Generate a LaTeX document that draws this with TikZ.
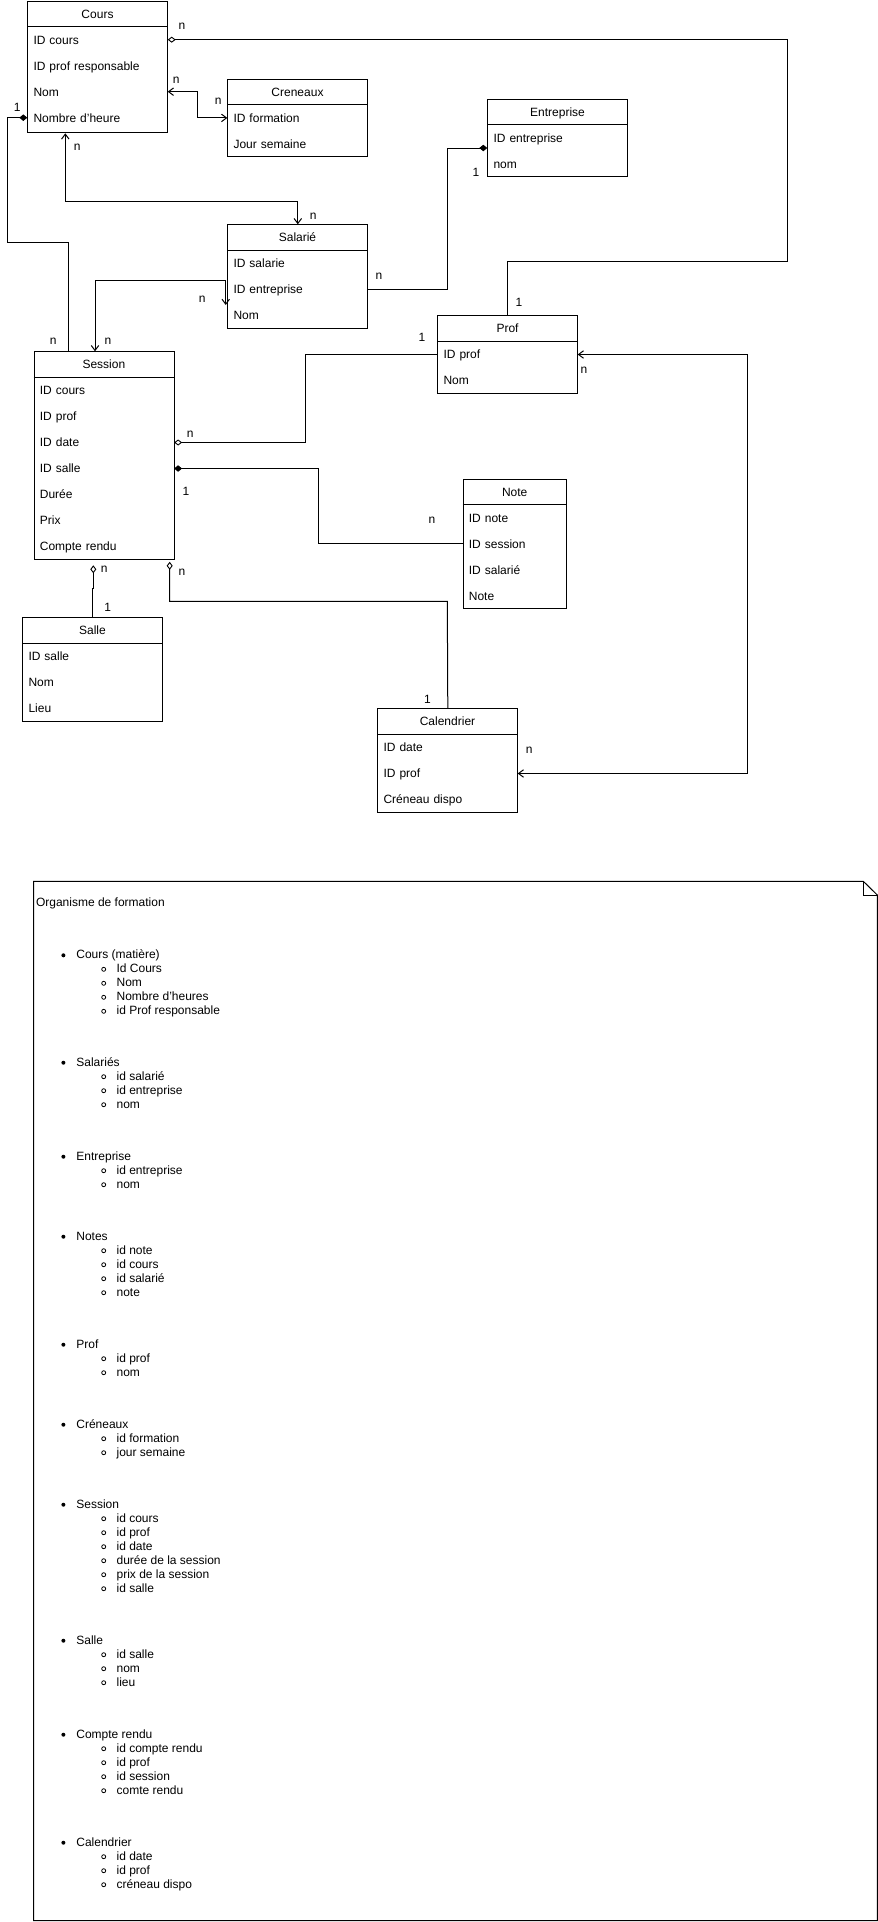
\documentclass[tikz,border=0pt]{standalone}
\usepackage{fontspec}
\setmainfont{Liberation Sans}
\usetikzlibrary{arrows.meta,calc}
\tikzset{
  ent/.style={draw, line width=1pt, anchor=north west, inner sep=0pt, fill=white},
  ttl/.style={anchor=north west, inner sep=0pt, minimum height=26pt, text height=8.6pt, text depth=0pt},
  rowtxt/.style={anchor=north west, inner xsep=6pt, inner ysep=0pt, minimum height=26pt, text height=8.6pt, text depth=0pt, align=left},
  card/.style={inner sep=0pt, anchor=center},
  lst/.style={inner sep=0pt, anchor=west, text height=8.6pt, text depth=0pt},
  conn/.style={line width=1pt},
  barb/.tip={Straight Barb[length=5pt,width=7.5pt,line width=1pt]},
  odia/.tip={Diamond[length=8pt,width=6pt,fill=white,line width=0.9pt]},
  fdia/.tip={Diamond[length=8pt,width=6.5pt]},
}
\newcommand\mkentity[7]{%
  \pgfmathsetmacro\mkw{#4-12}%
  \node[ent, minimum width=#4pt, minimum height=#5pt] (#1) at (#2,#3) {};
  \node[ttl, minimum width=#4pt] (#1-t) at (#2,#3) {#6};
  \draw[line width=1pt] ($(#2,#3)+(0,26)$) -- ++(#4,0);
  \foreach \r [count=\i] in {#7} {
    \node[rowtxt, text width=\mkw pt] (#1-\i) at (#2,{#3+26*\i}) {\r};
  }%
}
\newcommand\mkgroup[4]{%
  \fill ({63.4},{#2+1}) circle (2pt);
  \node[lst] (#1) at (76.2,#2) {#3};
  \foreach \s [count=\k] in {#4} {
    \draw[line width=0.8pt] ({103.7},{#2+14*\k+1}) circle (2pt);
    \node[lst] (#1-\k) at (116.4,{#2+14*\k}) {\s};
  }%
}
\begin{document}
\begin{tikzpicture}[x=1pt,y=-1pt, every node/.style={font=\fontsize{12}{14}\selectfont}]
\useasboundingbox (0,0) rectangle (878,1922);
\fill[white] (0,0) rectangle (878,1922);

% entities
\mkentity{cours}{27.3}{0.5}{140}{131.8}{Cours}{ID cours,ID prof responsable,Nom,Nombre d'heure}
\mkentity{creneaux}{227.3}{78.7}{140}{77.6}{Creneaux}{ID formation,Jour semaine}
\mkentity{entreprise}{487.3}{98.7}{140}{77.3}{Entreprise}{ID entreprise,nom}
\mkentity{salarie}{227.3}{224.3}{140}{104}{Salarié}{ID salarie,ID entreprise,Nom}
\mkentity{prof}{437.3}{315.3}{140}{78}{Prof}{ID prof,Nom}
\mkentity{session}{33.7}{351.3}{140}{208}{Session}{ID cours,ID prof,ID date,ID salle,Durée,Prix,Compte rendu}
\mkentity{note}{462.7}{478.7}{103.6}{129.6}{Note}{ID note,ID session,ID salarié,Note}
\mkentity{salle}{22.3}{617.3}{140}{104}{Salle}{ID salle,Nom,Lieu}
\mkentity{cal}{377.3}{708.3}{140}{103.7}{Calendrier}{ID date,ID prof,Créneau dispo}

% bend points
\coordinate (b1) at (787.3,261.3);
\coordinate (b3) at (65.3,201);
\coordinate (b4a) at (7.3,242.3);
\coordinate (b4b) at (68.3,242.3);
\coordinate (b5) at (95,280.3);
\coordinate (salfree) at (225.7,305);
\coordinate (b6) at (447.3,148);
\coordinate (b7) at (305.3,400);
\coordinate (b8) at (318.7,500);
\coordinate (b9) at (93.3,588);
\coordinate (b10) at (447.3,601.3);
\coordinate (b11) at (747.3,500);

% connectors
\draw[conn, odia-] (cours-1.east) -| (b1) -| (prof.north);
\draw[conn, barb-barb] (cours-3.east) -- ++(30,0) |- (creneaux-1.west);
\draw[conn, barb-barb] (b3 |- cours.south) -- (b3) -| (salarie.north);
\draw[conn, fdia-] (cours-4.west) -| (b4a) -- (b4b) -- (b4b |- session.north);
\draw[conn, barb-barb] (b5 |- session.north) -- (b5) -| (salfree);
\draw[conn, -fdia] (salarie-2.east) -| (b6) -- (b6 -| entreprise.west);
\draw[conn, odia-] (session-3.east) -| (b7) |- (prof-1.west);
\draw[conn, fdia-] (session-4.east) -| (b8) |- (note-2.west);
\draw[conn, odia-] ($(session.south west)+(59.6,5)$) -- (b9) -- (b9 -| salle.north) -- (salle.north);
\draw[conn, odia-] ($(session.south east)+(-5,1.5)$) |- (b10) -- (cal.north);
\draw[conn, barb-barb] (prof-1.east) -| (b11) |- (cal-2.east);

% cardinalities
\node[card] (l1) at (182,26) {n};
\node[card] (l2) at (519,302) {1};
\node[card] (l3) at (176.3,80) {n};
\node[card] (l4) at (218.3,101.7) {n};
\node[card] (l5) at (77.3,147.7) {n};
\node[card] (l6) at (313.3,216) {n};
\node[card] (l7) at (17.3,107.3) {1};
\node[card] (l8) at (53.3,341) {n};
\node[card] (l9) at (108,341) {n};
\node[card] (l10) at (202.3,299) {n};
\node[card] (l11) at (379,276) {n};
\node[card] (l12) at (476,172.7) {1};
\node[card] (l13) at (190.3,434.3) {n};
\node[card] (l14) at (422,337.7) {1};
\node[card] (l15) at (186,491) {1};
\node[card] (l16) at (432,520) {n};
\node[card] (l17) at (104.3,569) {n};
\node[card] (l18) at (107.7,607.3) {1};
\node[card] (l19) at (182,572) {n};
\node[card] (l20) at (427.5,699) {1};
\node[card] (l21) at (584,370) {n};
\node[card] (l22) at (529.3,750) {n};

% note shape
\draw[line width=1pt] (33.6,881.3) -- (863.3,881.3) -- (877.3,895) -- (877.3,1920.7) -- (33.6,1920.7) -- cycle;
\draw[line width=1pt] (863.3,881.3) -- (863.3,895) -- (877.3,895);
\node[lst] (org) at (35.8,902) {Organisme de formation};

\mkgroup{g1}{954.3}{Cours (matière)}{Id Cours,Nom,Nombre d'heures,id Prof responsable}
\mkgroup{g2}{1061.7}{Salariés}{id salarié,id entreprise,nom}
\mkgroup{g3}{1155.7}{Entreprise}{id entreprise,nom}
\mkgroup{g4}{1235.7}{Notes}{id note,id cours,id salarié,note}
\mkgroup{g5}{1343.7}{Prof}{id prof,nom}
\mkgroup{g6}{1423.7}{Créneaux}{id formation,jour semaine}
\mkgroup{g7}{1503.7}{Session}{id cours,id prof,id date,durée de la session,prix de la session,id salle}
\mkgroup{g8}{1639.7}{Salle}{id salle,nom,lieu}
\mkgroup{g9}{1733.7}{Compte rendu}{id compte rendu,id prof,id session,comte rendu}
\mkgroup{g10}{1841.7}{Calendrier}{id date,id prof,créneau dispo}
\end{tikzpicture}
\end{document}
